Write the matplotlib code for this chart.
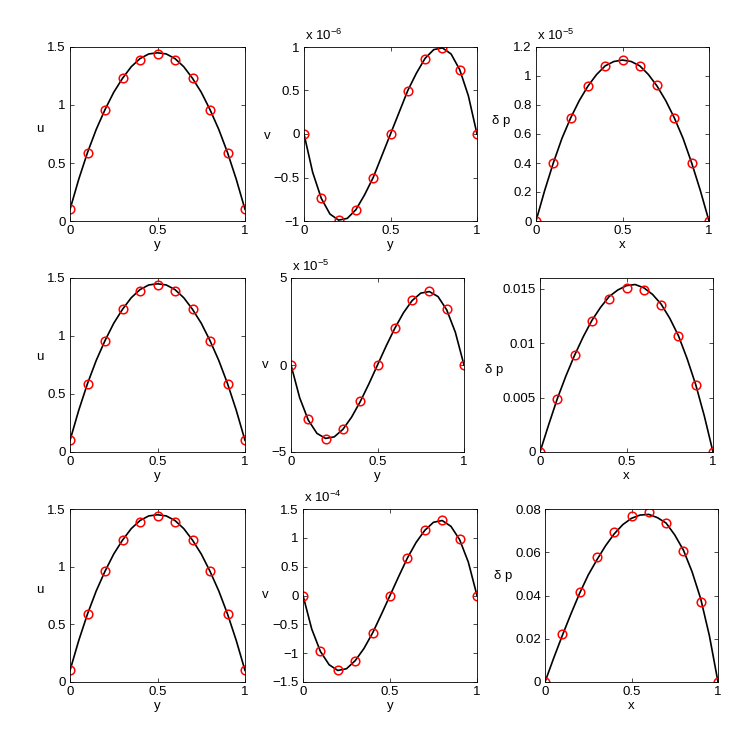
import matplotlib
matplotlib.use("Agg")
import matplotlib.pyplot as plt
from matplotlib.ticker import FuncFormatter

plt.rcParams["font.family"] = ["Liberation Sans", "DejaVu Sans"]
plt.rcParams["font.size"] = 9.5
plt.rcParams["mathtext.default"] = "regular"

# sample points (red circles) and the finer reference curve (black line)
x_pts = [0.0, 0.1, 0.2, 0.3, 0.4, 0.5, 0.6, 0.7, 0.8, 0.9, 1.0]
x_fine = [0.0, 0.05, 0.1, 0.15, 0.2, 0.25, 0.3, 0.35, 0.4, 0.45, 0.5,
          0.55, 0.6, 0.65, 0.7, 0.75, 0.8, 0.85, 0.9, 0.95, 1.0]

# u -- same profile in all three rows
u_pts = [0.10, 0.59, 0.96, 1.23, 1.39, 1.44, 1.39, 1.23, 0.96, 0.59, 0.10]
u_fine = [0.10, 0.36, 0.59, 0.79, 0.96, 1.11, 1.23, 1.33, 1.40, 1.44, 1.45,
          1.44, 1.40, 1.33, 1.23, 1.11, 0.96, 0.79, 0.59, 0.36, 0.10]

# v, row 1 (x 1e-6)
v1_pts = [0.0, -0.74, -0.99, -0.87, -0.50, 0.0, 0.49, 0.86, 0.99, 0.74, 0.0]
v1_fine = [0.0, -0.44, -0.74, -0.92, -0.99, -0.97, -0.87, -0.70, -0.50, -0.25, 0.0,
           0.25, 0.50, 0.70, 0.87, 0.97, 0.99, 0.92, 0.74, 0.44, 0.0]
# v, row 2 (x 1e-5)
v2_pts = [0.0, -3.13, -4.23, -3.69, -2.08, 0.0, 2.13, 3.71, 4.27, 3.19, 0.0]
v2_fine = [0.0, -1.88, -3.17, -3.93, -4.22, -4.13, -3.70, -3.00, -2.11, -1.09, 0.0,
           1.09, 2.11, 3.00, 3.70, 4.13, 4.22, 3.93, 3.17, 1.88, 0.0]
# v, row 3 (x 1e-4)
v3_pts = [0.0, -0.97, -1.30, -1.13, -0.65, 0.0, 0.65, 1.14, 1.31, 0.98, 0.0]
v3_fine = [0.0, -0.58, -0.97, -1.20, -1.30, -1.27, -1.13, -0.92, -0.65, -0.33, 0.0,
           0.33, 0.65, 0.92, 1.13, 1.27, 1.30, 1.20, 0.97, 0.58, 0.0]

# delta p, row 1 (x 1e-5)
dp1_pts = [0.0, 0.40, 0.71, 0.93, 1.07, 1.11, 1.07, 0.94, 0.71, 0.40, 0.0]
dp1_fine = [0.0, 0.21, 0.40, 0.57, 0.71, 0.83, 0.93, 1.01, 1.07, 1.10, 1.11,
            1.10, 1.07, 1.01, 0.93, 0.83, 0.71, 0.57, 0.40, 0.21, 0.0]
# delta p, row 2
dp2_pts = [0.0, 0.0049, 0.0089, 0.0120, 0.0141, 0.0151, 0.0149, 0.0135, 0.0107, 0.0062, 0.0]
dp2_fine = [0.0, 0.0025, 0.0049, 0.0070, 0.0089, 0.0106, 0.0121, 0.0133, 0.0143, 0.0149, 0.0153,
            0.0154, 0.0151, 0.0145, 0.0136, 0.0123, 0.0107, 0.0086, 0.0062, 0.0033, 0.0]
# delta p, row 3
dp3_pts = [0.0, 0.0224, 0.0418, 0.0577, 0.0695, 0.0766, 0.0785, 0.0735, 0.0605, 0.0371, 0.0]
dp3_fine = [0.0, 0.0110, 0.0215, 0.0315, 0.0410, 0.0495, 0.0565, 0.0630, 0.0685, 0.0728, 0.0757,
            0.0772, 0.0775, 0.0760, 0.0735, 0.0680, 0.0610, 0.0510, 0.0385, 0.0215, 0.0]

W, H = 738, 740
FS = 9.5


def fmt(v, _pos):
    return ("%g" % round(v, 6)).replace("-", "\u2212")


def make_axes(fig, left, top, width, bottom):
    return fig.add_axes([left / W, 1 - bottom / H, width / W, (bottom - top) / H])


def draw_panel(ax, fine, pts, ylim, yticks, xlabel, ylabel, ylab_dx, ylab_y, expo=None):
    ax.plot(x_fine, fine, color="black", linewidth=1.2, solid_joinstyle="round")
    ax.plot(x_pts, pts, "o", mfc="none", mec="red", mew=1.1, ms=6.2)
    ax.set_xlim(0, 1)
    ax.set_ylim(*ylim)
    ax.set_xticks([0, 0.5, 1])
    ax.set_yticks(yticks)
    ax.xaxis.set_major_formatter(FuncFormatter(fmt))
    ax.yaxis.set_major_formatter(FuncFormatter(fmt))
    ax.tick_params(direction="in", length=3, width=0.5, top=True, right=True,
                   labelsize=FS, pad=3)
    for s in ax.spines.values():
        s.set_linewidth(0.6)
    ax.set_xlabel(xlabel, fontsize=FS, labelpad=1)
    ax.set_ylabel(ylabel, fontsize=FS, rotation=0, ha="center", va="center")
    w_px = ax.get_position().width * W
    ax.yaxis.set_label_coords(-ylab_dx / w_px, ylab_y)
    if expo is not None:
        ax.annotate(r"x 10$^{%d}$" % expo, xy=(0, 1), xycoords="axes fraction",
                    xytext=(1, 3), textcoords="offset points", fontsize=FS,
                    ha="left", va="bottom")


def main():
    fig = plt.figure(figsize=(W / 100, H / 100), dpi=100)

    rows = [(47, 221), (278, 452), (509, 682)]
    cols = [
        [(70, 175), (304, 173), (536, 173)],
        [(70, 175), (291, 173), (540, 173)],
        [(70, 175), (303, 174), (545, 173)],
    ]
    u_label_y = [0.53, 0.546, 0.53]

    v_sets = [
        (v1_fine, v1_pts, (-1, 1), [-1, -0.5, 0, 0.5, 1], -6, 37, 0.49),
        (v2_fine, v2_pts, (-5, 5), [-5, 0, 5], -5, 26, 0.5),
        (v3_fine, v3_pts, (-1.5, 1.5), [-1.5, -1, -0.5, 0, 0.5, 1, 1.5], -4, 38, 0.5),
    ]
    dp_sets = [
        (dp1_fine, dp1_pts, (0, 1.2), [0, 0.2, 0.4, 0.6, 0.8, 1, 1.2], -5, 35, 0.575),
        (dp2_fine, dp2_pts, (0, 0.016), [0, 0.005, 0.01, 0.015], None, 46, 0.47),
        (dp3_fine, dp3_pts, (0, 0.08), [0, 0.02, 0.04, 0.06, 0.08], None, 42, 0.61),
    ]

    for r, (top, bottom) in enumerate(rows):
        (l0, w0), (l1, w1), (l2, w2) = cols[r]

        ax = make_axes(fig, l0, top, w0, bottom)
        draw_panel(ax, u_fine, u_pts, (0, 1.5), [0, 0.5, 1, 1.5], "y", "u", 30, u_label_y[r])

        fine, pts, ylim, yt, expo, dx, ly = v_sets[r]
        ax = make_axes(fig, l1, top, w1, bottom)
        draw_panel(ax, fine, pts, ylim, yt, "y", "v", dx, ly, expo)

        fine, pts, ylim, yt, expo, dx, ly = dp_sets[r]
        ax = make_axes(fig, l2, top, w2, bottom)
        draw_panel(ax, fine, pts, ylim, yt, "x", "\u03b4 p", dx, ly, expo)

    fig.savefig("out.png", dpi=100)
    plt.close(fig)


if __name__ == "__main__":
    main()
